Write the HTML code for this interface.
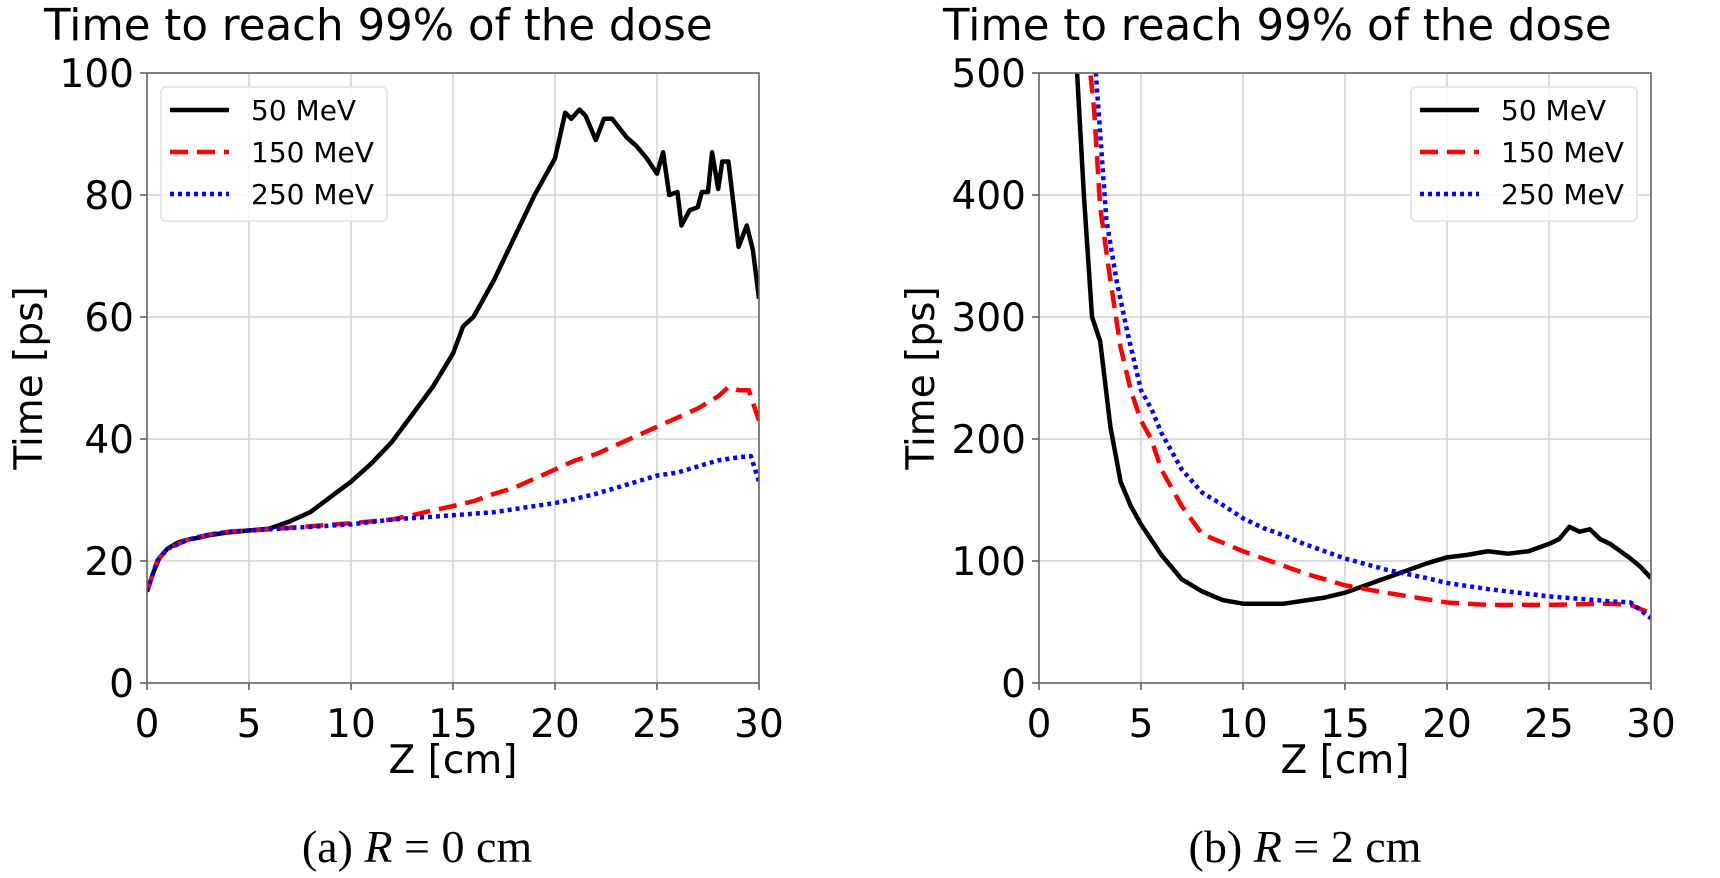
<!DOCTYPE html>
<html><head><meta charset="utf-8"><style>
html,body{margin:0;padding:0;background:#fff;}
svg{display:block;}
text{font-family:"DejaVu Sans","Liberation Sans",sans-serif;fill:#000;}
.cap{font-family:"Liberation Serif","DejaVu Serif",serif;}
</style></head><body>
<svg id="s" width="1720" height="878" xmlns="http://www.w3.org/2000/svg"></svg>
<script>
const S=document.getElementById('s');let h='';
function plot(x0,x1,y0,y1,ymax,ystep,data,leg,title,tx,cap,capx){
  const X=z=>x0+(x1-x0)*z/30, Y=v=>y1-(y1-y0)*v/ymax;
  for(let z=0;z<=30;z+=5){h+=`<line x1="${X(z)}" y1="${y0}" x2="${X(z)}" y2="${y1}" stroke="#c8c8c8" stroke-width="1.3"/>`;
    h+=`<line x1="${X(z)}" y1="${y1}" x2="${X(z)}" y2="${y1+7}" stroke="#555" stroke-width="1.5"/>`;
    h+=`<text x="${X(z)}" y="${y1+54}" font-size="39" text-anchor="middle">${z}</text>`;}
  for(let v=0;v<=ymax;v+=ystep){h+=`<line x1="${x0}" y1="${Y(v)}" x2="${x1}" y2="${Y(v)}" stroke="#c8c8c8" stroke-width="1.3"/>`;
    h+=`<line x1="${x0-7}" y1="${Y(v)}" x2="${x0}" y2="${Y(v)}" stroke="#555" stroke-width="1.5"/>`;
    h+=`<text x="${x0-13}" y="${Y(v)+14}" font-size="39" text-anchor="end">${v}</text>`;}
  h+=`<defs><clipPath id="c${x0}"><rect x="${x0}" y="${y0}" width="${x1-x0}" height="${y1-y0}"/></clipPath></defs>`;
  const st=[['#000',''],['#f00','18,9'],['#00f','4,4']];
  data.forEach((d,i)=>{h+=`<polyline clip-path="url(#c${x0})" fill="none" stroke="${st[i][0]}" stroke-width="4.5" stroke-linejoin="round" ${st[i][1]?`stroke-dasharray="${st[i][1]}"`:''} points="${d.map(p=>X(p[0])+','+Y(p[1])).join(' ')}"/>`;});
  h+=`<rect x="${x0}" y="${y0}" width="${x1-x0}" height="${y1-y0}" fill="none" stroke="#666" stroke-width="1.6"/>`;
  const [lx,ly]=leg;
  h+=`<rect x="${lx}" y="${ly}" width="226" height="134" rx="5" fill="#fff" fill-opacity="0.85" stroke="#ddd" stroke-width="1.3"/>`;
  ['50 MeV','150 MeV','250 MeV'].forEach((t,i)=>{const yy=ly+23+i*42;
    h+=`<line x1="${lx+9}" y1="${yy}" x2="${lx+68}" y2="${yy}" stroke="${st[i][0]}" stroke-width="4.5" ${st[i][1]?`stroke-dasharray="${st[i][1]}"`:''}/>`;
    h+=`<text x="${lx+90}" y="${yy+10}" font-size="28">${t}</text>`;});
  h+=`<text x="${tx}" y="40" font-size="43.5">${title}</text>`;
  h+=`<text x="${(x0+x1)/2}" y="${y1+90}" font-size="39" text-anchor="middle">Z [cm]</text>`;
  h+=`<text transform="translate(${x0-105},${(y0+y1)/2}) rotate(-90)" font-size="39" text-anchor="middle">Time [ps]</text>`;
  h+=`<text class="cap" x="${capx}" y="${y1+179}" font-size="46" text-anchor="middle">${cap}</text>`;
}
const a50=[[0,15],[0.3,18],[0.6,20.5],[1,22],[1.5,23],[2,23.5],[2.5,23.8],[3,24.2],[4,24.7],[5,25],[6,25.3],[7,26.5],[8,28],[9,30.5],[10,33],[11,36],[12,39.5],[13,44],[14,48.5],[15,54],[15.5,58.5],[16,60],[17,66],[18,73],[19,80],[19.5,83],[20,86],[20.5,93.5],[20.8,92.5],[21.2,94],[21.5,93],[22,89],[22.4,92.5],[22.8,92.5],[23.5,89.5],[24,88],[24.5,86],[25,83.5],[25.3,87],[25.6,80],[26,80.5],[26.2,75],[26.6,77.5],[27,78],[27.2,80.5],[27.5,80.5],[27.7,87],[28,81],[28.2,85.5],[28.5,85.5],[29,71.5],[29.4,75],[29.7,71],[30,63]];
const a150=[[0,15],[0.5,20],[1,22],[2,23.5],[3,24.3],[4,24.8],[5,25],[6,25.2],[8,25.7],[10,26.2],[12,26.8],[13,27.5],[14,28.3],[15,29],[16,29.8],[17,31],[18,32],[19,33.5],[20,35],[21,36.5],[22,37.5],[23,39],[24,40.5],[25,42],[26,43.5],[27,45],[28,47],[28.5,48.5],[29,48],[29.5,48],[30,43]];
const a250=[[0,15],[0.5,20],[1,22],[2,23.5],[3,24.3],[4,24.8],[5,25],[6,25.2],[8,25.6],[10,26],[12,26.8],[15,27.5],[17,28],[19,29],[20,29.5],[21,30.2],[22,31],[23,32],[24,33],[25,34],[26,34.5],[27,35.5],[28,36.5],[29,37],[29.6,37.2],[30,33]];
const b50=[[1.8,520],[2.2,400],[2.6,300],[3,280],[3.5,210],[4,165],[4.5,145],[5,130],[6,105],[7,85],[8,75],[9,68],[10,65],[12,65],[14,70],[15,74],[16,80],[17,86],[18,92],[19,98],[20,103],[21,105],[22,108],[23,106],[24,108],[25,114],[25.5,118],[26,128],[26.5,124],[27,126],[27.5,118],[28,114],[29,102],[29.5,95],[30,86]];
const b150=[[2.4,520],[2.7,470],[3,390],[3.5,330],[4,275],[4.5,240],[5,215],[5.5,200],[6,175],[7,145],[8,122],[9,115],[10,108],[11,102],[12,96],[13,90],[15,80],[17,74],[20,66],[22,64],[25,64],[28,65],[29,64],[30,57]];
const b250=[[2.7,520],[3,450],[3.3,380],[3.8,330],[4.3,290],[5,240],[5.5,225],[6,205],[7,175],[8,156],[9,146],[10,135],[11,127],[12,121],[13,114],[15,102],[17,93],[19,86],[20,82],[22,77],[25,71],[28,67],[29,66],[30,53]];
plot(147,759,73,683,100,20,[a50,a150,a250],[161,87],'Time to reach 99% of the dose',44,'(a) <tspan font-style="italic">R</tspan> = 0 cm',417);
plot(1039,1651,73,683,500,100,[b50,b150,b250],[1411,87],'Time to reach 99% of the dose',943,'(b) <tspan font-style="italic">R</tspan> = 2 cm',1305);
S.innerHTML=h;
</script>
</body></html>
